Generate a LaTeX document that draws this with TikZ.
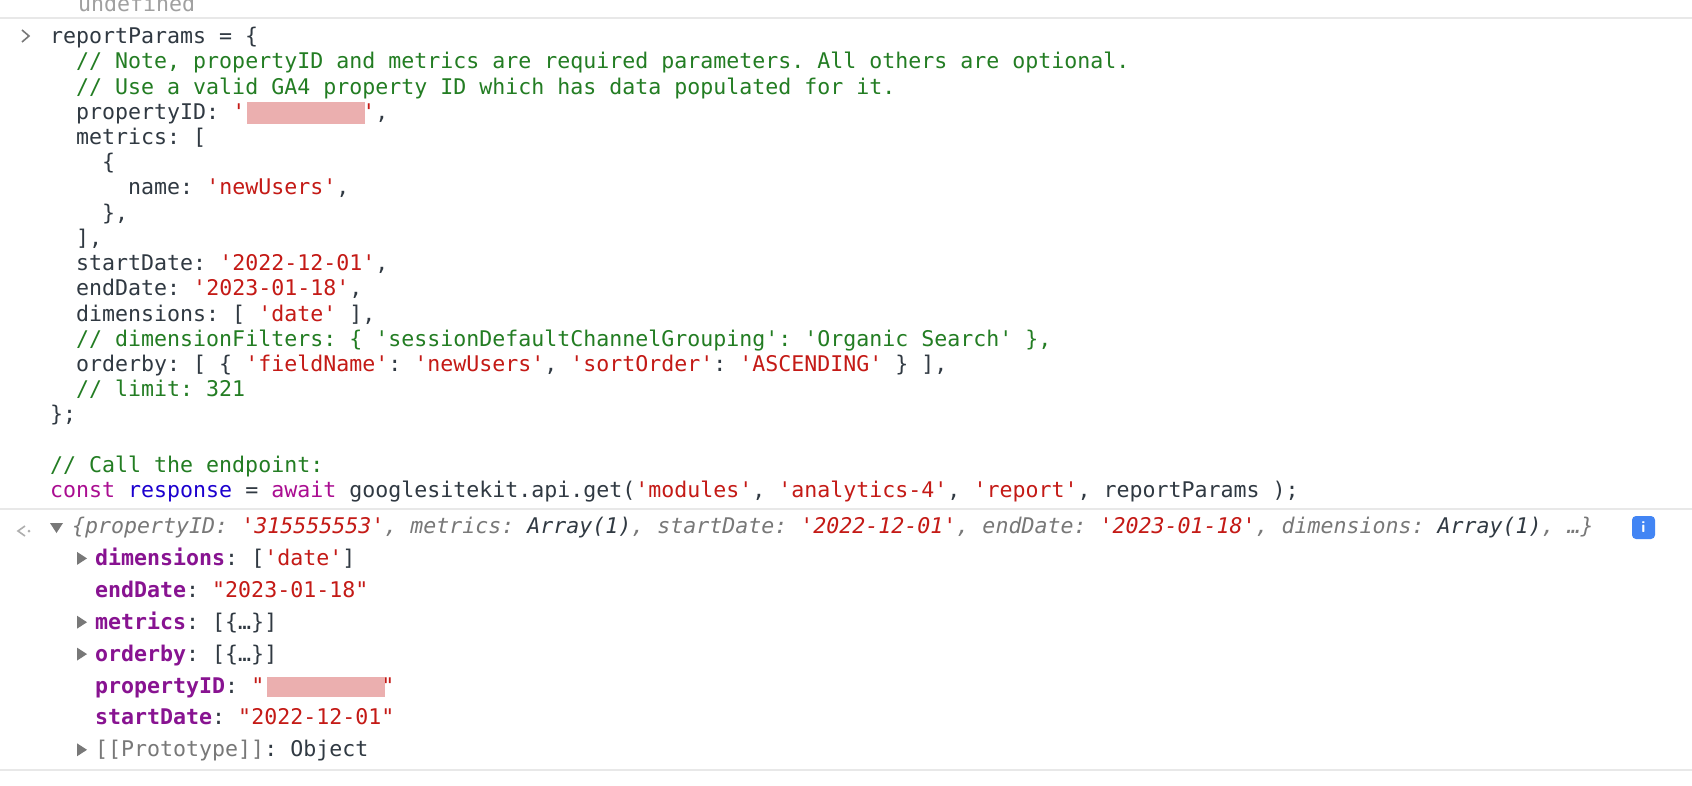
\documentclass[tikz,border=0pt]{standalone}
\usepackage{fontspec}
\setmonofont{DejaVu Sans Mono}
\definecolor{txt}{RGB}{48,57,66}
\definecolor{cmt}{RGB}{35,125,35}
\definecolor{str}{RGB}{196,26,22}
\definecolor{kw}{RGB}{170,13,145}
\definecolor{vb}{RGB}{28,0,207}
\definecolor{key}{RGB}{136,19,145}
\definecolor{gry}{RGB}{120,120,120}
\definecolor{sep}{RGB}{232,232,232}
\definecolor{red}{RGB}{235,175,175}
\definecolor{info}{RGB}{66,133,244}
\newcommand{\Cm}[1]{\textcolor{cmt}{#1}}
\newcommand{\St}[1]{\textcolor{str}{#1}}
\newcommand{\Kw}[1]{\textcolor{kw}{#1}}
\newcommand{\Ky}[1]{\textcolor{key}{\bfseries #1}}
\newcommand{\Gy}[1]{\textcolor{gry}{#1}}
\newcommand{\Ind}[1]{\hspace*{#1\fontcharwd\font`x}}
\begin{document}
\begin{tikzpicture}[x=1pt,y=-1pt,
  ln/.style={anchor=base west,inner sep=0pt,font=\ttfamily\fontsize{21.6}{24}\selectfont,text=txt}]
\useasboundingbox[fill=white] (0,0) rectangle (1692,786);
\node[ln,text=gry!70] (u) at (78,12) {undefined};
\draw[sep,line width=1.5pt] (0,18) -- (1692,18);
\draw[gry,line width=1.6pt] (22,30) -- (29,36) -- (22,42);
\def\L#1#2#3{\node[ln] (#1) at (50,{37.8+25.2*#2+6}) {#3};}
\L{a0}{0}{reportParams = \{}
\L{a1}{1}{\Ind{2}\Cm{// Note, propertyID and metrics are required parameters. All others are optional.}}
\L{a2}{2}{\Ind{2}\Cm{// Use a valid GA4 property ID which has data populated for it.}}
\L{a3}{3}{\Ind{2}propertyID: \St{'}\Ind{9}\St{'},}
\L{a4}{4}{\Ind{2}metrics: [}
\L{a5}{5}{\Ind{4}\{}
\L{a6}{6}{\Ind{6}name: \St{'newUsers'},}
\L{a7}{7}{\Ind{4}\},}
\L{a8}{8}{\Ind{2}],}
\L{a9}{9}{\Ind{2}startDate: \St{'2022-12-01'},}
\L{a10}{10}{\Ind{2}endDate: \St{'2023-01-18'},}
\L{a11}{11}{\Ind{2}dimensions: [ \St{'date'} ],}
\L{a12}{12}{\Ind{2}\Cm{// dimensionFilters: \{ 'sessionDefaultChannelGrouping': 'Organic Search' \},}}
\L{a13}{13}{\Ind{2}orderby: [ \{ \St{'fieldName'}: \St{'newUsers'}, \St{'sortOrder'}: \St{'ASCENDING'} \} ],}
\L{a14}{14}{\Ind{2}\Cm{// limit: 321}}
\L{a15}{15}{\};}
\L{a17}{17}{\Cm{// Call the endpoint:}}
\L{a18}{18}{\Kw{const} \textcolor{vb}{response} = \Kw{await} googlesitekit.api.get(\St{'modules'}, \St{'analytics-4'}, \St{'report'}, reportParams );}
\fill[red] (a3.base west) ++(197,-17) rectangle ++(118,22);
\draw[sep,line width=1.5pt] (0,509) -- (1692,509);
% output
\draw[gry!60,line width=1.6pt] (25,526) -- (18,531) -- (25,536);
\fill[gry!60] (29,531) circle (1.5);
\fill[gry] (50,523) -- (63,523) -- (56.5,533) -- cycle;
\node[ln] (o0) at (72,533) {\itshape\Gy{\{propertyID: }\St{'315555553'}\Gy{, metrics: }Array(1)\Gy{, startDate: }\St{'2022-12-01'}\Gy{, endDate: }\St{'2023-01-18'}\Gy{, dimensions: }Array(1)\Gy{, …\}}};
\fill[info,rounded corners=4pt] (1632,516) rectangle (1655,539);
\node[inner sep=0pt,text=white,font=\sffamily\bfseries\fontsize{16}{16}\selectfont] (ic) at (1643.5,527.5) {i};
\def\O#1#2#3{\node[ln] (#1) at (95,{526.5+31.9*#2+7}) {#3};}
\def\T#1{\fill[gry] (77,{526.5+31.9*#1-6.5}) -- (87,{526.5+31.9*#1}) -- (77,{526.5+31.9*#1+6.5}) -- cycle;}
\O{o1}{1}{\Ky{dimensions}: [\St{'date'}]}\T{1}
\O{o2}{2}{\Ky{endDate}: \St{"2023-01-18"}}
\O{o3}{3}{\Ky{metrics}: [\{…\}]}\T{3}
\O{o4}{4}{\Ky{orderby}: [\{…\}]}\T{4}
\O{o5}{5}{\Ky{propertyID}: \St{"}\Ind{9}\St{"}}
\fill[red] (267,677) rectangle (385,697);
\O{o6}{6}{\Ky{startDate}: \St{"2022-12-01"}}
\O{o7}{7}{\Gy{[[Prototype]]}: Object}\T{7}
\draw[sep,line width=1.5pt] (0,770) -- (1692,770);
\end{tikzpicture}
\end{document}
